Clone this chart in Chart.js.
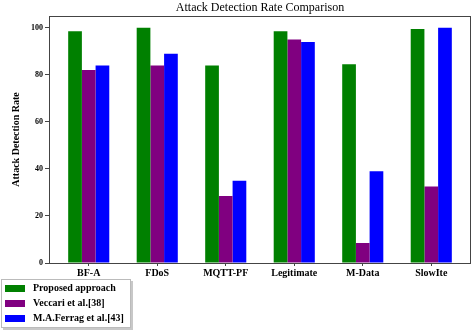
<!DOCTYPE html>
<html>
<head>
<meta charset="utf-8">
<script src="https://cdn.jsdelivr.net/npm/chart.js@4/dist/chart.umd.min.js"></script>
<style>
  html, body { margin: 0; padding: 0; background: #fff; }
  #wrap { width: 474px; height: 331px; }
</style>
</head>
<body>
<div id="wrap"><canvas id="chart" width="474" height="331"></canvas></div>
<script>
const categories = ["BF-A", "FDoS", "MQTT-PF", "Legitimate", "M-Data", "SlowIte"];
const proposed = [98.5, 100, 84, 98.5, 84.5, 99.5];
const veccari = [82, 84, 28.5, 95, 8.5, 32.5];
const ferrag = [84, 89, 35, 94, 39, 100];
const yTicks = [0, 20, 40, 60, 80, 100];

const serif = "'Liberation Serif', 'Times New Roman', serif";

function toPoints(values) {
    return values.map((v, i) => ({ x: i, y: v }));
}

// frame round the plot area (matplotlib style)
const framePlugin = {
    id: "frame",
    afterDatasetsDraw(chart) {
        const a = chart.chartArea;
        const ctx = chart.ctx;
        ctx.save();
        ctx.strokeStyle = "#444";
        ctx.lineWidth = 1;
        ctx.strokeRect(Math.round(a.left) + 0.5, Math.round(a.top) + 0.5,
            Math.round(a.right - a.left) - 1, Math.round(a.bottom - a.top));
        ctx.restore();
    }
};

// title centred over the plot area, and the boxed legend bottom-left
const textPlugin = {
    id: "texts",
    afterDraw(chart) {
        const ctx = chart.ctx;
        const a = chart.chartArea;
        ctx.save();
        ctx.fillStyle = "#000";
        ctx.font = "12px " + serif;
        ctx.textAlign = "center";
        ctx.textBaseline = "middle";
        ctx.fillText("Attack Detection Rate Comparison", (a.left + a.right) / 2, 8);

        // legend box
        const bx = 1, by = 279, bw = 130, bh = 49;
        ctx.fillStyle = "#c8c8c8";
        ctx.fillRect(bx + 2, by + 2, bw, bh);
        ctx.fillStyle = "#fff";
        ctx.fillRect(bx, by, bw, bh);
        ctx.strokeStyle = "#bbb";
        ctx.lineWidth = 1;
        ctx.strokeRect(bx + 0.5, by + 0.5, bw - 1, bh - 1);

        ctx.font = "bold 10px " + serif;
        ctx.textAlign = "left";
        chart.data.datasets.forEach((ds, i) => {
            const y = by + 9 + i * 15;
            ctx.fillStyle = ds.backgroundColor;
            ctx.fillRect(bx + 4, y - 3, 20, 7);
            ctx.fillStyle = "#000";
            ctx.fillText(ds.label, bx + 32, y + 0.5);
        });
        ctx.restore();
    }
};

new Chart(document.getElementById("chart"), {
    type: "bar",
    data: {
        datasets: [
            { label: "Proposed approach", data: toPoints(proposed), backgroundColor: "#008000" },
            { label: "Veccari et al.[38]", data: toPoints(veccari), backgroundColor: "#800080" },
            { label: "M.A.Ferrag et al.[43]", data: toPoints(ferrag), backgroundColor: "#0000ff" }
        ]
    },
    options: {
        responsive: false,
        animation: false,
        layout: { padding: { top: 16, right: 3, left: 0, bottom: 0 } },
        datasets: { bar: { categoryPercentage: 0.6, barPercentage: 1.0, borderWidth: 0 } },
        plugins: {
            legend: { display: false },
            title: { display: false },
            tooltip: { enabled: false }
        },
        scales: {
            x: {
                type: "linear",
                offset: false,
                min: -0.58,
                max: 5.58,
                afterBuildTicks: (axis) => { axis.ticks = categories.map((c, i) => ({ value: i })); },
                afterFit: (axis) => { axis.height = 68; },
                grid: { offset: false, drawOnChartArea: false, drawTicks: true, tickLength: 3, color: "#444" },
                border: { display: false },
                ticks: {
                    color: "#000",
                    padding: 1,
                    maxRotation: 0,
                    autoSkip: false,
                    font: { family: serif, size: 10, weight: "bold" },
                    callback: (v) => categories[v]
                }
            },
            y: {
                min: 0,
                max: 105,
                afterBuildTicks: (axis) => { axis.ticks = yTicks.map(v => ({ value: v })); },
                afterFit: (axis) => { axis.width = 49; },
                grid: { drawOnChartArea: false, drawTicks: true, tickLength: 4, color: "#444" },
                border: { display: false },
                title: {
                    display: true,
                    text: "Attack Detection Rate",
                    color: "#000",
                    padding: { top: 10, bottom: 0 },
                    font: { family: serif, size: 10, weight: "bold" }
                },
                ticks: {
                    color: "#000",
                    padding: 2,
                    font: { family: serif, size: 8, weight: "bold" }
                }
            }
        }
    },
    plugins: [framePlugin, textPlugin]
});
</script>
</body>
</html>
